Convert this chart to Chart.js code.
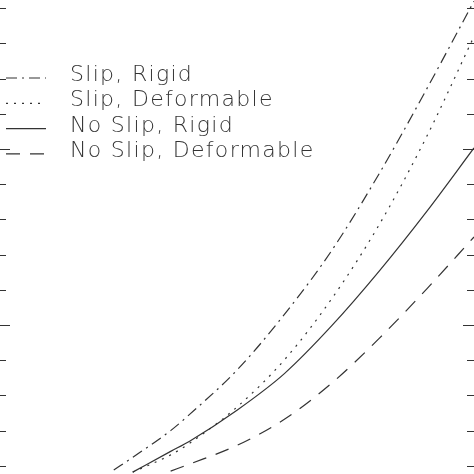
<!DOCTYPE html>
<html>
<head>
<meta charset="utf-8">
<script src="https://cdn.jsdelivr.net/npm/chart.js@4"></script>
<style>
  html, body { margin: 0; padding: 0; background: #fff; }
  #wrap { width: 474px; height: 474px; position: relative; }
</style>
</head>
<body>
<div id="wrap"><canvas id="chart"></canvas></div>
<script>
// x positions shared by all curves (axis labels are cropped out of the picture)
const xValues = [2.4, 2.8, 3.6, 4, 5, 6, 7, 8, 9, 10];

// series values
const slipRigid        = [0.88, 1.24, 2.00, 2.46, 3.72, 5.30, 7.12, 9.30, 11.70, 14.2];
const slipDeformable   = [null, 0.82, 1.31, 1.64, 2.67, 4.01, 5.75, 7.85, 10.35, 13.2];
const noSlipRigid      = [null, 0.82, 1.41, 1.70, 2.58, 3.62, 4.98, 6.53, 8.22, 10.03];
const noSlipDeformable = [null, null, 0.85, 1.05, 1.58, 2.32, 3.35, 4.62, 6.02, 7.5];

const seriesLabels = ["Slip, Rigid", "Slip, Deformable", "No Slip, Rigid", "No Slip, Deformable"];

// y tick marks (minor every 1, major every 5)
const yTicks = [1, 2, 3, 4, 5, 6, 7, 8, 9, 10, 11, 12, 13, 14];
const yMajorTicks = [5, 10];

const ink = "#333";

// Turn one value list into {x, y} points for the linear x scale
function toPoints(values) {
  const pts = [];
  values.forEach((v, i) => {
    if (v !== null) pts.push({ x: xValues[i], y: v });
  });
  return pts;
}

function makeSet(label, values, dash) {
  return {
    label: label,
    data: toPoints(values),
    borderColor: ink,
    borderWidth: 1.2,
    borderDash: dash,
    pointRadius: 0,
    fill: false,
    cubicInterpolationMode: "monotone"
  };
}

// Draws the little inward tick marks on both sides and the legend block
const frame = {
  id: "frame",
  afterDraw(chart) {
    const ctx = chart.ctx;
    const y = chart.scales.y;
    const left = chart.chartArea.left;
    const right = chart.chartArea.right;

    ctx.save();
    ctx.strokeStyle = ink;
    ctx.lineWidth = 1.2;
    yTicks.forEach(t => {
      const py = Math.round(y.getPixelForValue(t)) + 0.5;
      const major = yMajorTicks.includes(t);
      ctx.beginPath();
      ctx.moveTo(left, py);
      ctx.lineTo(left + (major ? 10 : 6), py);
      ctx.moveTo(right, py);
      ctx.lineTo(right - (major ? 11 : 7), py);
      ctx.stroke();
    });

    // legend: line sample then label
    ctx.font = '300 22px "DejaVu Sans"';
    ctx.letterSpacing = "1.3px";
    ctx.fillStyle = ink;
    ctx.textBaseline = "alphabetic";
    chart.data.datasets.forEach((ds, i) => {
      const base = 81 + i * 25.3;
      ctx.setLineDash(ds.borderDash);
      ctx.beginPath();
      ctx.moveTo(6, base - 3);
      ctx.lineTo(46, base - 3);
      ctx.stroke();
      ctx.setLineDash([]);
      ctx.fillText(ds.label, 70, base);
    });
    ctx.restore();
  }
};

new Chart(document.getElementById("chart"), {
  type: "line",
  data: {
    datasets: [
      makeSet(seriesLabels[0], slipRigid, [11, 5, 2, 5]),
      makeSet(seriesLabels[1], slipDeformable, [2, 6]),
      makeSet(seriesLabels[2], noSlipRigid, []),
      makeSet(seriesLabels[3], noSlipDeformable, [14, 10])
    ]
  },
  options: {
    responsive: true,
    maintainAspectRatio: false,
    animation: false,
    layout: { padding: 0 },
    plugins: {
      legend: { display: false },
      tooltip: { enabled: false }
    },
    scales: {
      x: { type: "linear", min: 0, max: 10, display: false },
      y: { type: "linear", min: 0.767, max: 14.233, display: false }
    }
  },
  plugins: [frame]
});
</script>
</body>
</html>
